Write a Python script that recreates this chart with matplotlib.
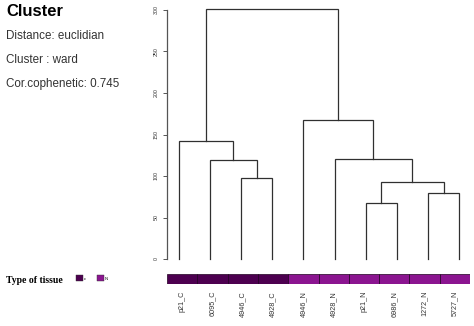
import matplotlib
matplotlib.use("Agg")
import matplotlib.pyplot as plt
from matplotlib.patches import Rectangle

leaves = ['p21_C', '6095_C', '4946_C', '4928_C', '4946_N',
          '4928_N', 'p21_N', '6986_N', '1272_N', '5727_N']
tissue = ['C', 'C', 'C', 'C', 'N', 'N', 'N', 'N', 'N', 'N']
tissue_colors = {'C': '#4d0050', 'N': '#8b1590'}

# merge tree: (left, right, height)
tree = (('p21_C', ('6095_C', ('4946_C', '4928_C', 98), 119), 142),
        ('4946_N', ('4928_N', (('p21_N', '6986_N', 67),
                               ('1272_N', '5727_N', 80), 93), 121), 167),
        301)

yticks = [0, 50, 100, 150, 200, 250, 300]
info = ["Distance: euclidian", "Cluster : ward", "Cor.cophenetic: 0.745"]

W, H = 474, 326
fig = plt.figure(figsize=(W / 100, H / 100), dpi=100)

ax = fig.add_axes([167 / W, 1 - 259 / H, (W - 167) / W, 249 / H])
lc = '#303030'


def draw(node):
    # returns x position and height of the node, draws the U links
    if isinstance(node, str):
        return leaves.index(node), 0
    xl, hl = draw(node[0])
    xr, hr = draw(node[1])
    h = node[2]
    ax.plot([xl, xl, xr, xr], [hl, h, h, hr], color=lc, lw=0.9,
            clip_on=False, solid_joinstyle='miter')
    return (xl + xr) / 2, h


draw(tree)
ax.set_xlim(-0.386, 9.48)
ax.set_ylim(0, 300)
for s in ['top', 'right', 'bottom']:
    ax.spines[s].set_visible(False)
ax.spines['left'].set_color('#555555')
ax.spines['left'].set_linewidth(0.9)
ax.spines['left'].set_bounds(0, 300)
ax.set_xticks([])
ax.set_yticks(yticks)
ax.set_yticklabels([str(v) for v in yticks], rotation=90, va='center',
                   fontsize=3.8, family='Liberation Sans', color='#333333')
ax.tick_params(axis='y', length=3, width=0.7, color='#555555', pad=3)

# tissue colour bar
cb = fig.add_axes([167 / W, 1 - 284 / H, 303 / W, 10 / H])
for i, t in enumerate(tissue):
    cb.add_patch(Rectangle((i, 0), 1, 1, facecolor=tissue_colors[t],
                           edgecolor='#200020', lw=0.5))
cb.set_xlim(0, len(leaves))
cb.set_ylim(0, 1)
for s in cb.spines.values():
    s.set_visible(False)
cb.set_yticks([])
cb.set_xticks([i + 0.5 for i in range(len(leaves))])
cb.set_xticklabels(leaves, rotation=90, fontsize=5.2, family='Liberation Sans',
                   color='#333333')
cb.tick_params(axis='x', length=0, pad=5)

# left side text
fig.text(6 / W, 1 - 16 / H, "Cluster", fontsize=12, fontweight='bold',
         family='Liberation Sans')
for k, line in enumerate(info):
    fig.text(6 / W, 1 - (39 + 24 * k) / H, line, fontsize=8.4,
             family='Liberation Sans', color='#333333')

fig.text(6 / W, 1 - 283 / H, "Type of tissue", fontsize=7, fontweight='bold',
         family='Liberation Serif')
for k, t in enumerate(['C', 'N']):
    x0 = 76 + 21 * k
    fig.patches.append(Rectangle((x0 / W, 1 - 280.5 / H), 6.5 / W, 5.5 / H,
                                 transform=fig.transFigure,
                                 facecolor=tissue_colors[t],
                                 edgecolor='#333333', lw=0.3))
    fig.text((x0 + 8) / W, 1 - 280.5 / H, t.lower() if t == 'C' else t,
             fontsize=3, family='Liberation Sans')

fig.savefig('out.png', dpi=100)
